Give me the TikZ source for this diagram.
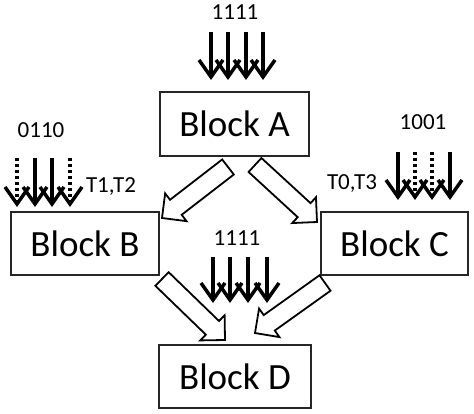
\documentclass[tikz,border=0pt]{standalone}
\usepackage{fontspec}
\setmainfont{Carlito}
\newfontfamily\lblfont[Numbers={Monospaced,Lining}]{Carlito}
\usetikzlibrary{arrows.meta,calc}
\tikzset{
 blk/.style={draw=black!85, line width=1.5pt, fill=white, inner sep=0pt, font=\fontsize{37}{40}\selectfont},
 lbl/.style={font=\lblfont\fontsize{23}{25}\selectfont, inner sep=0pt},
 sig/.style={line width=3.5pt, -{Straight Barb[length=17pt,width=24pt,line width=3.5pt]}},
 sigdot/.style={sig, dash pattern=on 3pt off 3pt},
 hollow/.style={draw=black, line width=1.8pt, fill=white, line join=miter},
}
\newcommand\hollowarrow[2]{%
 \coordinate (#1h) at ($(#2)!17.5pt!(#1)$);
 \draw[hollow] ($(#1)!9.5pt!90:(#2)$) -- ($(#1h)!9.5pt!90:(#2)$) -- ($(#1h)!17.5pt!90:(#2)$) -- (#2)
   -- ($(#1h)!17.5pt!-90:(#2)$) -- ($(#1h)!9.5pt!-90:(#2)$) -- ($(#1)!9.5pt!-90:(#2)$) -- cycle;
}
\begin{document}
\begin{tikzpicture}[x=1pt,y=-1pt]
\useasboundingbox (0,0) rectangle (474,413);
\node[blk, minimum width=149pt, minimum height=64pt] (A) at (234.5,124) {Block A};
\node[blk, minimum width=148pt, minimum height=63pt] (B) at (85,243.5) {Block B};
\node[blk, minimum width=147pt, minimum height=63pt] (C) at (394.5,243.5) {Block C};
\node[blk, minimum width=152pt, minimum height=63pt] (D) at (235,376.5) {Block D};

\node[lbl] (lA) at (235,12) {1111};
\node[lbl] (lB) at (41,130) {0110};
\node[lbl] (tB) at (111,187) {T1,T2};
\node[lbl] (lC) at (423,122) {1001};
\node[lbl] (tC) at (352,184) {T0,T3};
\node[lbl] (lD) at (237,238) {1111};

\foreach \x/\s [count=\i] in {211/sig,228/sig,246/sig,263/sig}
 {\coordinate (as\i) at (\x,32); \coordinate (ae\i) at (\x,80); \draw[\s] (as\i) -- (ae\i);}
\foreach \x/\s [count=\i] in {17/sigdot,35/sig,52/sig,70/sigdot}
 {\coordinate (bs\i) at (\x,158); \coordinate (be\i) at (\x,207); \draw[\s] (bs\i) -- (be\i);}
\foreach \x/\s [count=\i] in {398/sig,415/sigdot,432/sigdot,450/sig}
 {\coordinate (cs\i) at (\x,152); \coordinate (ce\i) at (\x,200); \draw[\s] (cs\i) -- (ce\i);}
\foreach \x/\s [count=\i] in {213/sig,230/sig,248/sig,267/sig}
 {\coordinate (ds\i) at (\x,257); \coordinate (de\i) at (\x,303); \draw[\s] (ds\i) -- (de\i);}

\coordinate (ab1) at (228,167); \coordinate (ab2) at (162,218);
\coordinate (ac1) at (255,165); \coordinate (ac2) at (317,222);
\coordinate (bd1) at (162,279); \coordinate (bd2) at (225,340);
\coordinate (cd1) at (325,283); \coordinate (cd2) at (255,333);
\hollowarrow{ab1}{ab2}
\hollowarrow{ac1}{ac2}
\hollowarrow{bd1}{bd2}
\hollowarrow{cd1}{cd2}
\end{tikzpicture}
\end{document}
